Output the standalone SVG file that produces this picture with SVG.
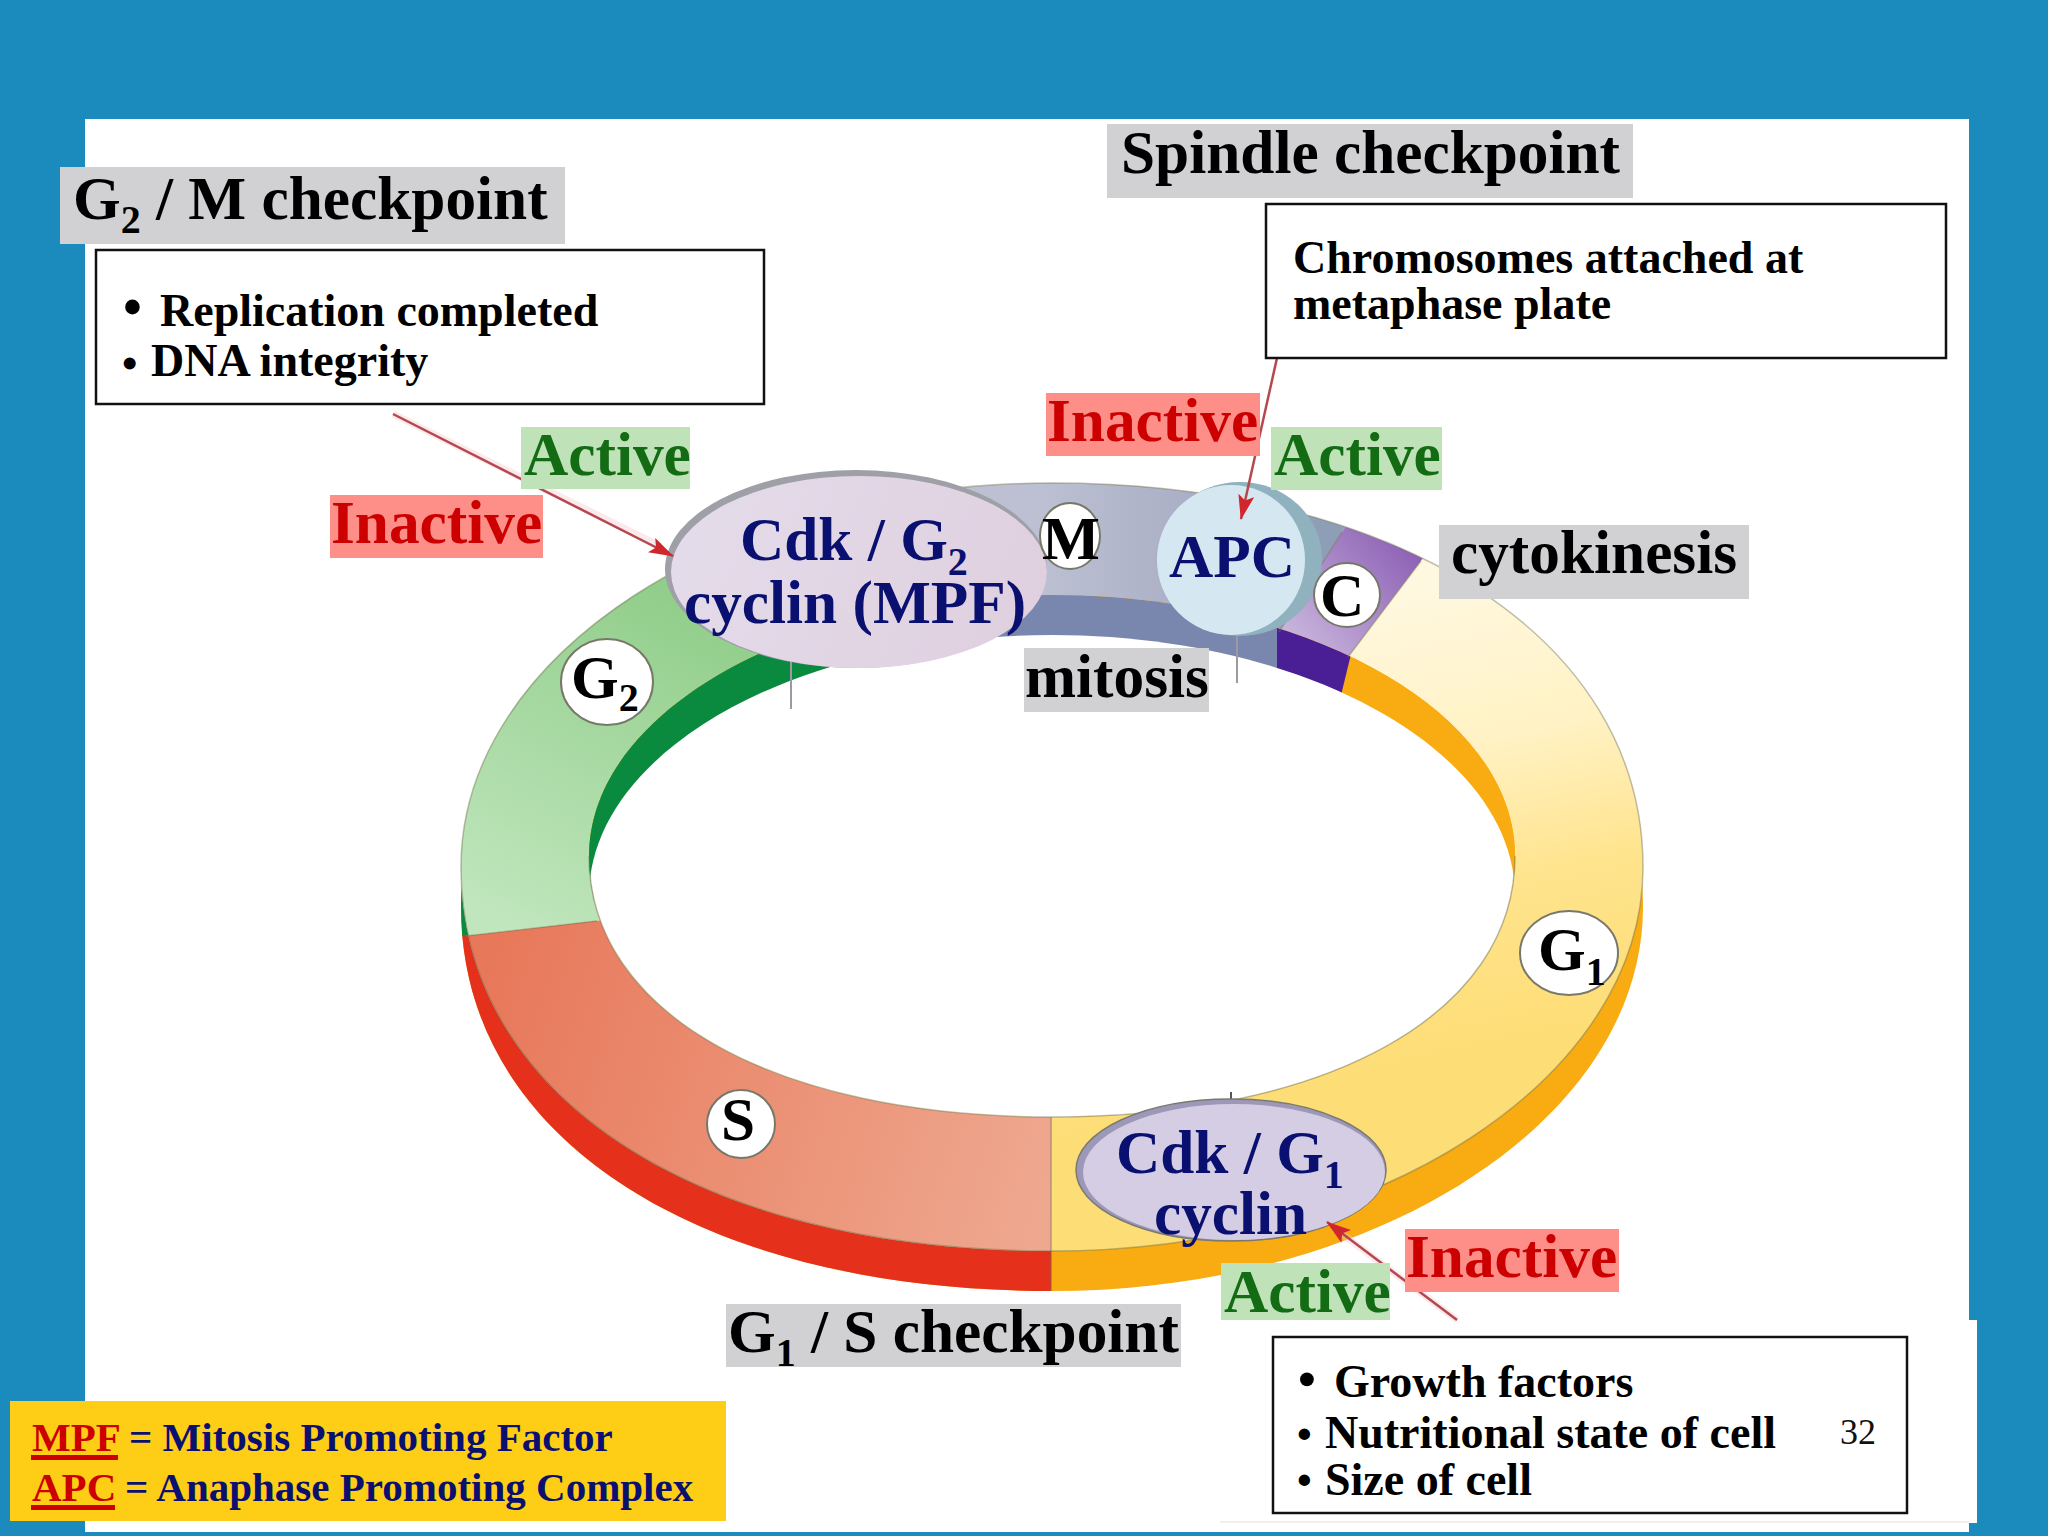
<svg xmlns="http://www.w3.org/2000/svg" width="2048" height="1536" viewBox="0 0 2048 1536">
<style>
text{font-family:"Liberation Serif","Times New Roman",serif;font-weight:bold}
.k{fill:#000}.n{fill:#0a1070}.r{fill:#cc0000}.g{fill:#136b14}
.f60{font-size:61.3px}.f46{font-size:46px}.f41{font-size:41px}
.grey{fill:#d1d1d4}.act{fill:#bfe2b8}.ina{fill:#fe8f88}
.box{fill:#fff;stroke:#111;stroke-width:2.5}
.disc{fill:#fff;stroke:#77786a;stroke-width:2}
.tick{stroke:#9a9aa2;stroke-width:2;fill:none}
.arrow{stroke:#b5474f;stroke-width:2.5;fill:none;marker-end:url(#head)}
.halo{stroke:#f8c8cc;stroke-width:7;fill:none;opacity:.4}
</style>
<defs>
<marker id="head" markerUnits="userSpaceOnUse" markerWidth="28" markerHeight="18" refX="24" refY="8" orient="auto"><path d="M0 0L25 8L0 16L5 8Z" fill="#d0262e"/></marker>
<linearGradient id="gG2" gradientUnits="userSpaceOnUse" x1="700" y1="560" x2="520" y2="930"><stop offset="0" stop-color="#8ccb85"/><stop offset="1" stop-color="#c0e6bd"/></linearGradient>
<linearGradient id="gS" gradientUnits="userSpaceOnUse" x1="480" y1="1000" x2="1051" y2="1180"><stop offset="0" stop-color="#e8785a"/><stop offset="1" stop-color="#eea88f"/></linearGradient>
<linearGradient id="gG1" gradientUnits="userSpaceOnUse" x1="1400" y1="590" x2="1500" y2="1050"><stop offset="0" stop-color="#fff8e0"/><stop offset=".35" stop-color="#fff2c4"/><stop offset=".65" stop-color="#ffe48e"/><stop offset="1" stop-color="#fddd75"/></linearGradient>
<linearGradient id="gM" gradientUnits="userSpaceOnUse" x1="1040" y1="0" x2="1320" y2="0"><stop offset="0" stop-color="#bcc0d2"/><stop offset=".6" stop-color="#a8adc4"/><stop offset="1" stop-color="#8e9eb6"/></linearGradient>
<linearGradient id="gC" gradientUnits="userSpaceOnUse" x1="1410" y1="540" x2="1295" y2="640"><stop offset="0" stop-color="#8c5fb4"/><stop offset="1" stop-color="#c8b4dc"/></linearGradient>
<linearGradient id="gMPF" gradientUnits="userSpaceOnUse" x1="680" y1="500" x2="1040" y2="640"><stop offset="0" stop-color="#e4dcea"/><stop offset="1" stop-color="#dfcfdf"/></linearGradient>
<path id="outer" d="M461 867C461 1097 697 1251 1052 1251C1378 1251 1643 1079 1643 867C1643 640 1401 483 1052 483C726 483 461 655 461 867Z"/>
<path id="inner" d="M589 856C589 1013 774 1117 1052 1117C1330 1117 1515 1013 1515 856C1515 712 1308 595 1052 595C796 595 589 712 589 856Z"/>
<clipPath id="cSide"><path transform="translate(0 40)" d="M461 867C461 1097 697 1251 1052 1251C1378 1251 1643 1079 1643 867C1643 640 1401 483 1052 483C726 483 461 655 461 867Z"/></clipPath>
<clipPath id="cInner"><path d="M589 856C589 1013 774 1117 1052 1117C1330 1117 1515 1013 1515 856C1515 712 1308 595 1052 595C796 595 589 712 589 856Z"/></clipPath>
<clipPath id="cFace"><path clip-rule="evenodd" d="M461 867C461 1097 697 1251 1052 1251C1378 1251 1643 1079 1643 867C1643 640 1401 483 1052 483C726 483 461 655 461 867ZM589 856C589 1013 774 1117 1052 1117C1330 1117 1515 1013 1515 856C1515 712 1308 595 1052 595C796 595 589 712 589 856Z"/></clipPath>
</defs>
<rect id="background" width="2048" height="1536" fill="#1b8abd"/>
<path id="panel" d="M85 119H1969V1320H1977V1523H1969V1532H85Z" fill="#fff"/>
<path d="M1220 1522H1969" stroke="#f2eeec" stroke-width="2"/>

<g id="ring">
<g clip-path="url(#cSide)">
<rect x="400" y="400" width="1300" height="1000" fill="#f9ab12"/>
<path d="M300 955L1052 868L1051 1400H300Z" fill="#e5301c"/>
<path d="M300 955L1052 868L850 300H300Z" fill="#0a8a3e"/>
</g>
<g clip-path="url(#cFace)">
<rect x="400" y="400" width="1300" height="1000" fill="url(#gG1)"/>
<path d="M300 955L1052 868L1051 1400H300Z" fill="url(#gS)"/>
<path d="M300 955L1052 868L850 300H300Z" fill="url(#gG2)"/>
<path d="M850 300L1500 281L1150 837L1052 868Z" fill="url(#gM)"/>
<path d="M1500 281L1600 325L1202 849L1150 837Z" fill="url(#gC)"/>
</g>
<g clip-path="url(#cInner)">
<rect x="500" y="500" width="1100" height="700" fill="#f9ab12"/>
<path d="M500 560H900V900H500Z" fill="#0a8a3e"/>
<path d="M900 560H1277V900H900Z" fill="#7986ad"/>
<path d="M1277 600L1352 650L1335 720L1277 720Z" fill="#4a1f96"/>
<use href="#inner" transform="translate(0 40)" fill="#fff"/>
</g>
<g fill="none" stroke="#6e7050" stroke-opacity=".45" stroke-width="1.5">
<use href="#outer"/>
<path d="M1515 856C1515 1013 1330 1117 1052 1117C774 1117 589 1013 589 856"/>
<path d="M466 936L597 921M1051 1117V1291M1421 561L1348 657M1342 532L1279 632"/>
</g>
<path class="tick" d="M791 648V709M1237 635V683"/>
<path class="tick" style="stroke:#55555f" d="M1231 1092V1116"/>
</g>

<g id="node-mpf">
<ellipse cx="856" cy="569" rx="191" ry="99" fill="#9f9fa8"/>
<ellipse cx="859" cy="572" rx="188" ry="96" fill="url(#gMPF)"/>
</g>
<g id="node-apc">
<ellipse cx="1240" cy="559" rx="82" ry="77" fill="#8fb2be"/>
<ellipse cx="1231" cy="560" rx="74" ry="75" fill="#d5e8f1"/>
</g>
<g id="node-g1cyclin">
<ellipse cx="1231" cy="1170" rx="155" ry="71" fill="#9d98b8" stroke="#7a7a70" stroke-width="1.5"/>
<ellipse cx="1234" cy="1172" rx="151" ry="68" fill="#d5cde3"/>
</g>

<g id="connectors">
<path class="halo" d="M393 414L660 546M1457 1320L1334 1228"/>
<path class="arrow" d="M393 414L673 556"/>
<path class="arrow" d="M1277 358L1241 519"/>
<path class="arrow" d="M1457 1320L1327 1222"/>
</g>

<g id="phase-g2"><ellipse class="disc" cx="607" cy="682" rx="46" ry="43"/><text class="k f60" x="571" y="698">G<tspan font-size="40" dy="13">2</tspan></text></g>
<g id="phase-m"><ellipse class="disc" cx="1070" cy="536" rx="30" ry="33"/><text class="k f60" x="1042" y="559">M</text></g>
<g id="phase-c"><ellipse class="disc" cx="1347" cy="595" rx="33" ry="32"/><text class="k f60" x="1320" y="616">C</text></g>
<g id="phase-g1"><ellipse class="disc" cx="1569" cy="953" rx="49" ry="42"/><text class="k f60" x="1538" y="970">G<tspan font-size="40" dy="15">1</tspan></text></g>
<g id="phase-s"><ellipse class="disc" cx="741" cy="1124" rx="34" ry="34"/><text class="k f60" x="721" y="1140">S</text></g>

<g id="mpf-label">
<text class="n f60" x="740" y="560">Cdk / G<tspan font-size="40" dy="15">2</tspan></text>
<text class="n f60" x="684" y="623">cyclin (MPF)</text>
</g>
<text id="apc-label" class="n f60" x="1169" y="577">APC</text>
<g id="g1cyclin-label">
<text class="n f60" x="1116" y="1173">Cdk / G<tspan font-size="40" dy="15">1</tspan></text>
<text class="n f60" x="1154" y="1234">cyclin</text>
</g>

<g id="g2m-checkpoint">
<rect class="grey" x="60" y="167" width="505" height="77"/>
<text class="k f60" x="73" y="219">G<tspan font-size="40" dy="14">2</tspan><tspan dy="-14"> / M checkpoint</tspan></text>
</g>
<g id="g2m-box">
<rect class="box" x="96" y="250" width="668" height="154"/>
<text class="k" font-size="54" x="123" y="325">•</text>
<text class="k f46" x="160" y="326">Replication completed</text>
<text class="k" font-size="44" x="122" y="378">•</text>
<text class="k f46" x="151" y="376">DNA integrity</text>
</g>
<g id="g2m-active"><rect class="act" x="521" y="427" width="169" height="62"/><text class="g f60" x="524" y="475">Active</text></g>
<g id="g2m-inactive"><rect class="ina" x="330" y="495" width="213" height="63"/><text class="r f60" x="331" y="543">Inactive</text></g>

<g id="spindle-checkpoint">
<rect class="grey" x="1107" y="124" width="526" height="74"/>
<text class="k f60" x="1121" y="173">Spindle checkpoint</text>
</g>
<g id="spindle-box">
<rect class="box" x="1266" y="204" width="680" height="154"/>
<text class="k f46" x="1293" y="273">Chromosomes attached at</text>
<text class="k f46" x="1293" y="319">metaphase plate</text>
</g>
<g id="spindle-inactive"><rect class="ina" x="1046" y="393" width="214" height="63"/><text class="r f60" x="1047" y="441">Inactive</text></g>
<g id="spindle-active"><rect class="act" x="1271" y="427" width="171" height="63"/><text class="g f60" x="1274" y="475">Active</text></g>
<g id="cytokinesis"><rect class="grey" x="1439" y="525" width="310" height="74"/><text class="k f60" x="1451" y="573">cytokinesis</text></g>
<g id="mitosis"><rect class="grey" x="1024" y="648" width="185" height="64"/><text class="k f60" x="1025" y="697">mitosis</text></g>

<g id="g1s-checkpoint">
<rect class="grey" x="726" y="1304" width="455" height="63"/>
<text class="k f60" x="728" y="1352">G<tspan font-size="40" dy="14">1</tspan><tspan dy="-14"> / S checkpoint</tspan></text>
</g>
<g id="g1s-active"><rect class="act" x="1221" y="1263" width="169" height="57"/><text class="g f60" x="1224" y="1312">Active</text></g>
<g id="g1s-inactive"><rect class="ina" x="1405" y="1229" width="214" height="63"/><text class="r f60" x="1406" y="1277">Inactive</text></g>
<g id="g1s-box">
<rect class="box" x="1273" y="1337" width="634" height="176"/>
<text class="k" font-size="51" x="1298" y="1396">•</text>
<text class="k f46" x="1334" y="1397">Growth factors</text>
<text class="k" font-size="42" x="1297" y="1448">•</text>
<text class="k f46" x="1325" y="1448">Nutritional state of cell</text>
<text class="k" font-size="42" x="1297" y="1494">•</text>
<text class="k f46" x="1325" y="1495">Size of cell</text>
<text x="1840" y="1444" font-size="36" style="font-weight:normal" fill="#111">32</text>
</g>

<g id="legend">
<rect x="10" y="1401" width="716" height="120" fill="#fecd15"/>
<text class="r f41" x="32" y="1451">MPF</text>
<rect x="31" y="1455" width="87" height="5" fill="#cc0000"/>
<text class="n f41" x="129" y="1451">= Mitosis Promoting Factor</text>
<text class="r f41" x="32" y="1501">APC</text>
<rect x="31" y="1505" width="84" height="5" fill="#cc0000"/>
<text class="n f41" x="125" y="1501">= Anaphase Promoting Complex</text>
</g>
</svg>
